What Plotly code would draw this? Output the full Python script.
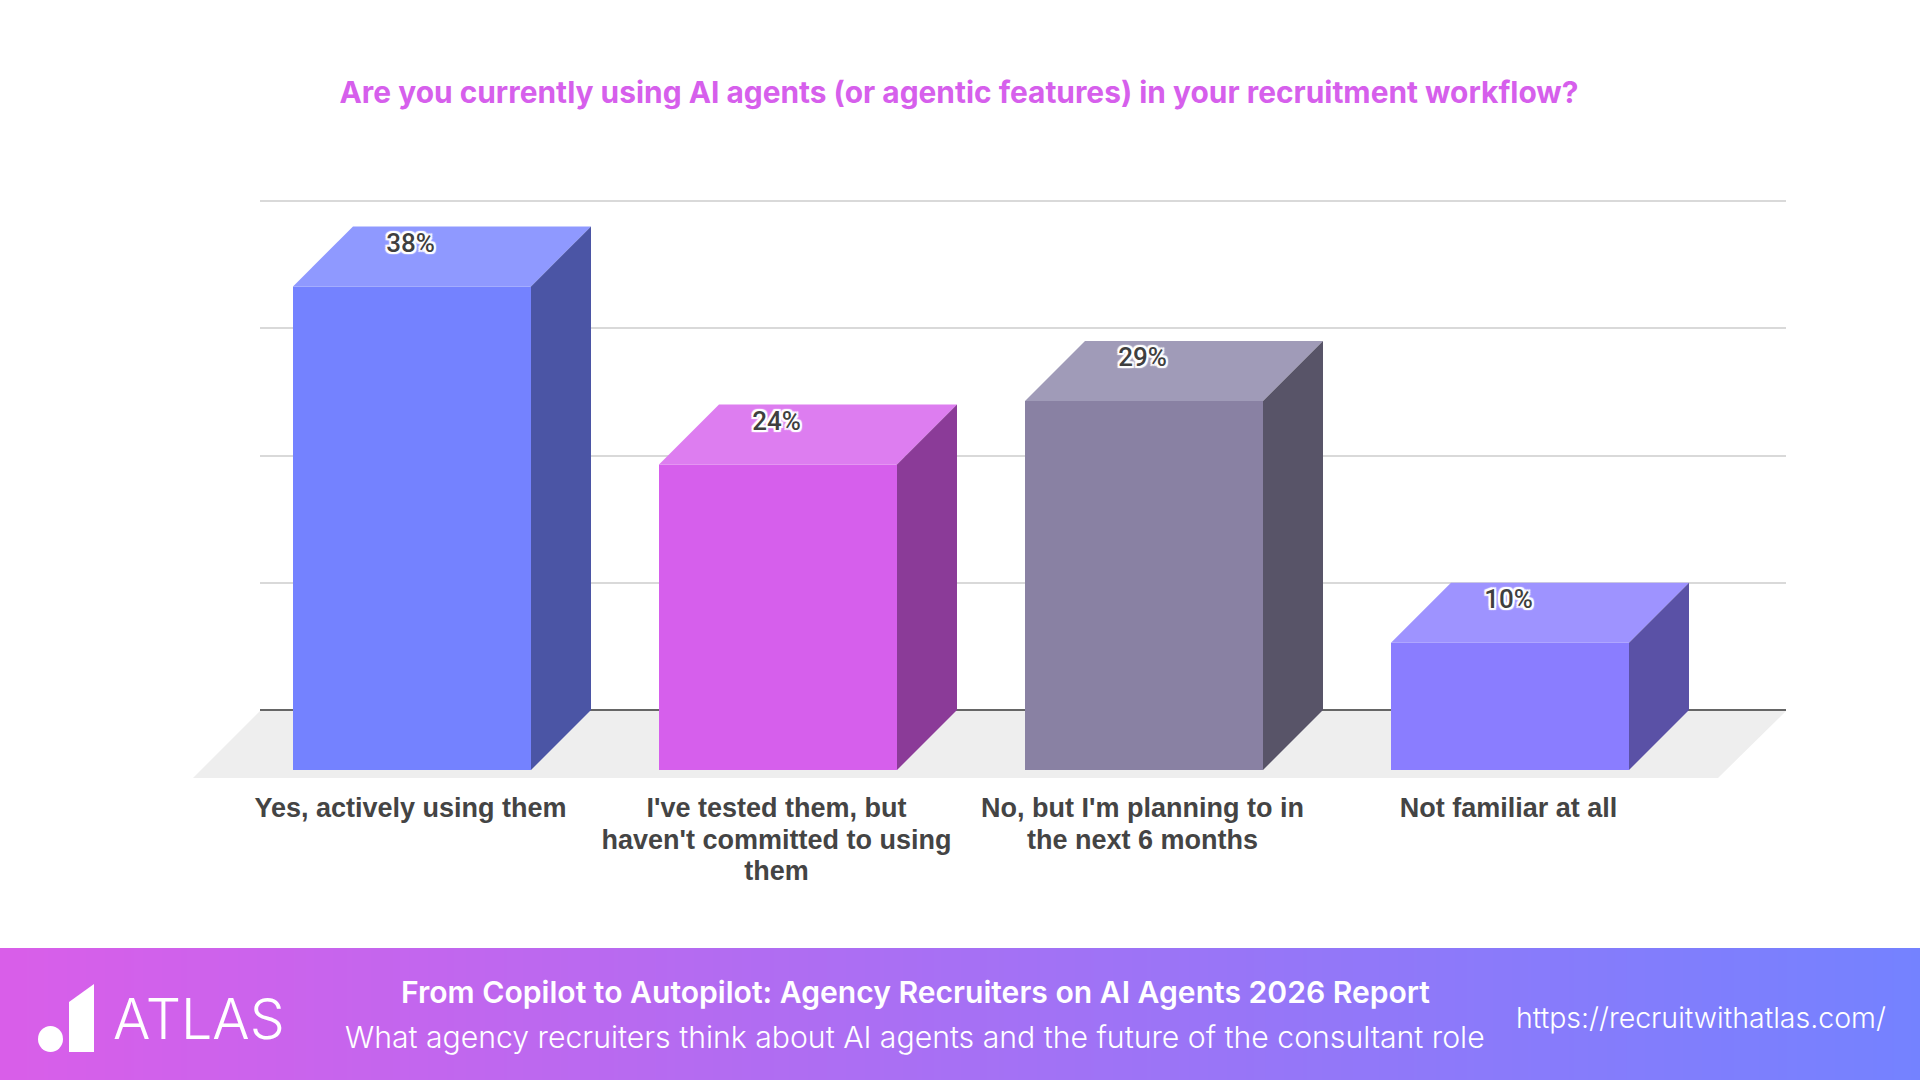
import plotly.graph_objects as go

# Survey results
categories = [
    ["Yes, actively using them"],
    ["I've tested them, but", "haven't committed to using", "them"],
    ["No, but I'm planning to in", "the next 6 months"],
    ["Not familiar at all"],
]
values = [38, 24, 29, 10]
value_labels = ["38%", "24%", "29%", "10%"]
positions = [0, 1, 2, 3]
wall_ticks = [0, 10, 20, 30, 40]

# Shades for each column: front, top and side faces
front_colors = ["#7482ff", "#d65fec", "#8981a3", "#8a7dff"]
top_colors = ["#8f99ff", "#dd7df0", "#a09bb8", "#9e93ff"]
side_colors = ["#4b55a5", "#8b3b98", "#585468", "#5a51a6"]

TITLE = "Are you currently using AI agents (or agentic features) in your recruitment workflow?"
BANNER_HEAD = "From Copilot to Autopilot: Agency Recruiters on AI Agents 2026 Report"
BANNER_SUB = "What agency recruiters think about AI agents and the future of the consultant role"
BANNER_URL = "https://recruitwithatlas.com/"

W, H = 1920, 1080
PX_PER_PCT = 509 / 40      # vertical scale shared by wall and columns
PX_PER_SLOT = 366          # horizontal spacing of the columns
FIRST_X = 412              # pixel centre of the first column
BASE_Y = 770               # pixel baseline of the column fronts
BAR_W = 238 / PX_PER_SLOT
DX = 60 / PX_PER_SLOT      # depth offset, x units
DY = 60 / PX_PER_PCT       # depth offset, y units
LABEL_LIFT = 41 / PX_PER_PCT
TEXT_NUDGE = 1.5 / PX_PER_SLOT  # labels sit slightly left of the column centres
WALL_HEADROOM = 0.4        # keeps the 40 gridline inside the wall's plot area


def ydom(px_bottom, px_top):
    return [1 - px_bottom / H, 1 - px_top / H]


def tick_text(lines):
    # Outer tick font sets the line pitch; the span sets the glyph size
    return "<br>".join(f'<span style="font-size:27px">{line}</span>' for line in lines)


fig = go.Figure()

# Invisible trace so the back-wall subplot (gridlines, baseline) gets drawn
fig.add_trace(go.Scatter(x=[0, 1], y=[0, 40], mode="none", xaxis="x", yaxis="y",
                         showlegend=False, hoverinfo="skip"))

# Columns: front face as a bar, top and side faces as filled polygons
fig.add_trace(go.Bar(
    x=positions, y=values, width=BAR_W, xaxis="x2", yaxis="y2",
    marker=dict(color=front_colors, line=dict(width=0)), showlegend=False,
    hoverinfo="skip",
))
for p, v, tc, sc in zip(positions, values, top_colors, side_colors):
    l, r = p - BAR_W / 2, p + BAR_W / 2
    fig.add_trace(go.Scatter(
        x=[l, r, r + DX, l + DX, l], y=[v, v, v + DY, v + DY, v],
        fill="toself", fillcolor=tc, mode="none", xaxis="x2", yaxis="y2",
        showlegend=False, hoverinfo="skip",
    ))
    fig.add_trace(go.Scatter(
        x=[r, r + DX, r + DX, r, r], y=[0, DY, v + DY, v, 0],
        fill="toself", fillcolor=sc, mode="none", xaxis="x2", yaxis="y2",
        showlegend=False, hoverinfo="skip",
    ))

halo = ", ".join(f"{a}px {b}px 1px #ffffff" for a in (-2, 0, 2) for b in (-2, 0, 2))
fig.add_trace(go.Scatter(
    x=[p - TEXT_NUDGE for p in positions], y=[v + LABEL_LIFT for v in values], text=value_labels,
    mode="text", textposition="middle center", xaxis="x2", yaxis="y2",
    textfont=dict(family="Roboto", size=26, weight=500, color="#3f3f3f", shadow=halo),
    showlegend=False, hoverinfo="skip",
))

# Colour band along the bottom edge
fig.add_trace(go.Heatmap(
    x=[0, 1920], y=[948, 1080], z=[[0, 1], [0, 1]], zsmooth="best",
    colorscale=[[0, "#d95ee9"], [1, "#7482ff"]], showscale=False,
    xaxis="x3", yaxis="y3", hoverinfo="skip",
))

fig.update_layout(
    width=W, height=H, autosize=False,
    margin=dict(l=0, r=0, t=0, b=0), paper_bgcolor="#ffffff", plot_bgcolor="rgba(0,0,0,0)",
    showlegend=False,
    title=dict(
        text=TITLE, x=959 / W, xanchor="center", y=1 - 93 / H, yanchor="middle",
        font=dict(family="Inter", size=29.9, weight=700, color="#d65fec"),
    ),
    # Back wall with its gridlines and baseline
    xaxis=dict(domain=[260 / W, 1786 / W], range=[0, 1], showgrid=False, zeroline=False,
               showticklabels=False, ticks=""),
    yaxis=dict(domain=ydom(710, 201 - WALL_HEADROOM * PX_PER_PCT), range=[0, 40 + WALL_HEADROOM],
               tickvals=wall_ticks, showticklabels=False,
               showgrid=True, gridcolor="#d9d9d9", gridwidth=1.5,
               zeroline=True, zerolinecolor="#666666", zerolinewidth=2, ticks=""),
    # Front plane holding the columns
    xaxis2=dict(domain=[0, 1], anchor="y2",
                range=[-FIRST_X / PX_PER_SLOT, (W - FIRST_X) / PX_PER_SLOT],
                tickvals=[p - TEXT_NUDGE for p in positions],
                ticktext=[tick_text(c) for c in categories],
                showgrid=False, zeroline=False, ticks="", ticklabelstandoff=14,
                tickfont=dict(family="Liberation Sans", size=24.3, weight=700, color="#444444")),
    yaxis2=dict(domain=ydom(BASE_Y + 8, 130), anchor="x2",
                range=[-8 / PX_PER_PCT, (BASE_Y - 130) / PX_PER_PCT],
                showgrid=False, zeroline=False, showticklabels=False, ticks=""),
    # Pixel-mapped axes for the band
    xaxis3=dict(domain=[0, 1], anchor="y3", range=[0, 1920], visible=False),
    yaxis3=dict(domain=[0, 132 / H], anchor="x3", range=[1080, 948], visible=False),
    shapes=[
        # Floor under the columns
        dict(type="path", xref="x2", yref="y2", layer="below", line=dict(width=0),
             fillcolor="#eeeeee",
             path=(f"M {(260 - FIRST_X) / PX_PER_SLOT} {59 / PX_PER_PCT} "
                   f"L {(1786 - FIRST_X) / PX_PER_SLOT} {59 / PX_PER_PCT} "
                   f"L {(1718 - FIRST_X) / PX_PER_SLOT} {-8 / PX_PER_PCT} "
                   f"L {(193 - FIRST_X) / PX_PER_SLOT} {-8 / PX_PER_PCT} Z")),
        # Logo mark
        dict(type="circle", xref="x3", yref="y3", x0=38, x1=63, y0=1026, y1=1052,
             fillcolor="#ffffff", line=dict(width=0)),
        dict(type="path", xref="x3", yref="y3", fillcolor="#ffffff", line=dict(width=0),
             path="M 69 1052 L 69 1002 L 94 984 L 94 1052 Z"),
    ],
    annotations=[
        dict(text="ATLAS", x=111, y=1018, xref="x3", yref="y3", xanchor="left", yanchor="middle",
             showarrow=False, font=dict(family="Inter", size=55.5, weight=300, color="#ffffff")),
        dict(text=BANNER_HEAD, x=915, y=992, xref="x3", yref="y3", xanchor="center", yanchor="middle",
             showarrow=False, font=dict(family="Inter", size=30.1, weight=600, color="#ffffff")),
        dict(text=BANNER_SUB, x=915, y=1036.5, xref="x3", yref="y3", xanchor="center", yanchor="middle",
             showarrow=False, font=dict(family="Inter", size=30.2, weight=300, color="#ffffff")),
        dict(text=BANNER_URL, x=1701, y=1017, xref="x3", yref="y3", xanchor="center", yanchor="middle",
             showarrow=False, font=dict(family="Inter", size=28.5, weight=300, color="#ffffff")),
    ],
)

fig.write_html("out.html")
